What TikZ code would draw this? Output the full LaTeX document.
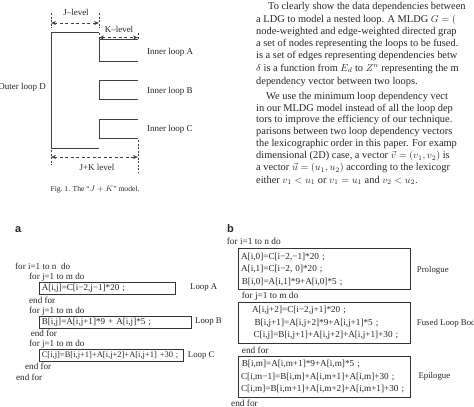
\documentclass[tikz,border=0pt]{standalone}
\usepackage{fontspec}
\setmainfont{Liberation Serif}
\newfontfamily\labelfont{Liberation Sans}
\usetikzlibrary{arrows.meta}

\begin{document}
\begin{tikzpicture}[x=1pt,y=-1pt,
  every node/.style={inner sep=0pt,text=black!85},
  bracket/.style={draw=black!75,line width=0.8pt},
  dimline/.style={draw=black!75,line width=0.7pt,dash pattern=on 3pt off 2.5pt,
    {Stealth[open,length=5pt,width=4pt]}-{Stealth[open,length=5pt,width=4pt]}},
  tick/.style={draw=black!75,line width=0.7pt,dash pattern=on 2pt off 1.5pt},
  figtext/.style={font=\fontsize{9}{10}\selectfont},
  body/.style={font=\fontsize{10.4}{12.4}\selectfont,anchor=base west},
  code/.style={font=\fontsize{8.8}{12.5}\selectfont,anchor=west},
  codea/.style={font=\fontsize{9.1}{12.5}\selectfont,anchor=west},
  codeb/.style={font=\fontsize{9.3}{12.5}\selectfont,anchor=west},
  codebox/.style={draw=black!80,line width=0.6pt,anchor=north west,inner xsep=2.5pt,
    inner ysep=0pt,minimum height=11.8pt,align=left,font=\fontsize{9.1}{12.5}\selectfont},
  blockbox/.style={codebox,minimum height=41pt,text width=166.7pt,font=\fontsize{9.2}{12.5}\selectfont},
  panel/.style={font=\labelfont\bfseries\fontsize{11}{12}\selectfont,anchor=base west}]
\useasboundingbox (0,0) rectangle (474,407);
\clip (0,0) rectangle (474,407);

% Fig. 1: the J+K model
\draw[bracket] (99,32) -- (51,32) -- (51,148) -- (99,148);
\draw[bracket] (138,39) -- (99,39) -- (99,61) -- (138,61);
\draw[bracket] (138,80) -- (99,80) -- (99,99) -- (138,99);
\draw[bracket] (138,119) -- (99,119) -- (99,138) -- (138,138);
\coordinate (jl) at (51,23); \coordinate (jr) at (99,23);
\coordinate (kl) at (99,37.5); \coordinate (kr) at (138,37.5);
\coordinate (jkl) at (51,157); \coordinate (jkr) at (138,157);
\draw[tick] (51,13) -- (51,28); \draw[tick] (99,13) -- (99,28);
\draw[tick] (99,33) -- (99,40); \draw[tick] (138,33) -- (138,40);
\draw[tick] (51,150) -- (51,165); \draw[tick] (138,140) -- (138,172);
\draw[dimline] (jl) -- (jr);
\draw[dimline] (kl) -- (kr);
\draw[dimline] (jkl) -- (jkr);
\node[figtext] (jlevel) at (76,12) {J–level};
\node[figtext] (klevel) at (119,29) {K–level};
\node[figtext] (jklevel) at (97,167) {J+K level};
\node[figtext,anchor=east] (outerD) at (46,87) {Outer loop D};
\node[figtext,anchor=west] (innerA) at (147,52) {Inner loop A};
\node[figtext,anchor=west] (innerB) at (147,91) {Inner loop B};
\node[figtext,anchor=west] (innerC) at (147,129) {Inner loop C};
\node[font=\fontsize{7.6}{9}\selectfont] (fig1) at (95,190) {Fig.~1. The ``$J+K$'' model.};

% text column
\node[body] (p1) at (268,9.5) {To clearly show the data dependencies between};
\node[body] (p2) at (256,22) {a LDG to model a nested loop. A MLDG $G=($};
\node[body] (p3) at (256,34) {node-weighted and edge-weighted directed grap};
\node[body] (p4) at (256,46) {a set of nodes representing the loops to be fused.};
\node[body] (p5) at (256,58) {is a set of edges representing dependencies betw};
\node[body] (p6) at (256,71) {$\delta$ is a function from $E_d$ to $Z^n$ representing the m};
\node[body] (p7) at (256,84) {dependency vector between two loops.};
\node[body] (p8) at (266,99) {We use the minimum loop dependency vect};
\node[body] (p9) at (256,111) {in our MLDG model instead of all the loop dep};
\node[body] (p10) at (256,122.5) {tors to improve the efficiency of our technique.};
\node[body] (p11) at (256,134.5) {parisons between two loop dependency vectors};
\node[body] (p12) at (256,146.5) {the lexicographic order in this paper. For examp};
\node[body] (p13) at (256,158.5) {dimensional (2D) case, a vector $\vec{v}=(v_1,v_2)$ is};
\node[body] (p14) at (256,170.5) {a vector $\vec{u}=(u_1,u_2)$ according to the lexicogr};
\node[body] (p15) at (256,183) {either $v_1<u_1$ or $v_1=u_1$ and $v_2<u_2$.};

% panel a: original loops
\node[panel] (la) at (15,232) {a};
\node[codea] (aFor) at (15,266) {for i=1 to n~ do};
\node[codea] (aForA) at (29,277.7) {for j=1 to m do};
\node[codebox,text width=131pt] (boxA) at (39,281.7) {\mbox{A[i,j]=C[i−2,j−1]*20 ;}};
\node[code] (loopA) at (190,287.7) {Loop A};
\node[codea] (aEndA) at (29,300.7) {end for};
\node[codea] (aForB) at (29,311) {for j=1 to m do};
\node[codebox,text width=146.7pt] (boxB) at (39,316) {\mbox{B[i,j]=A[i,j+1]*9 + A[i,j]*5 ;}};
\node[code] (loopB) at (195,321.7) {Loop B};
\node[codea] (aEndB) at (30.7,333.3) {end for};
\node[codea] (aForC) at (29,344) {for j=1 to m do};
\node[codebox,text width=139pt,font=\fontsize{8.5}{12.5}\selectfont] (boxC) at (39,349.3)
  {\mbox{C[i,j]=B[i,j+1]+A[i,j+2]+A[i,j+1] +30 ;}};
\node[code] (loopC) at (187.7,356) {Loop C};
\node[codea] (aEndC) at (25,366) {end for};
\node[codea] (aEnd) at (16,377.7) {end for};

% panel b: fused loop
\node[panel] (lb) at (227,232) {b};
\node[codeb] (bFor) at (226.7,241.7) {for i=1 to n do};
\node[blockbox] (pro) at (238.3,248.3) {A[i,0]=C[i−2,−1]*20 ;\\
  A[i,1]=C[i−2, 0]*20 ;\\
  \hspace*{0.7pt}B[i,0]=A[i,1]*9+A[i,0]*5 ;};
\node[code] (prologue) at (416.7,270) {Prologue};
\node[codeb] (bForJ) at (241.7,296) {for j=1 to m do};
\node[blockbox,minimum height=41.6pt] (body) at (238.3,301.7) {\hspace*{11pt}A[i,j+2]=C[i−2,j+1]*20 ;\\
  \hspace*{13.5pt}B[i,j+1]=A[i,j+2]*9+A[i,j+1]*5 ;\\
  \hspace*{12.5pt}\mbox{C[i,j]=B[i,j+1]+A[i,j+2]+A[i,j+1]+30 ;}};
\node[code] (fused) at (416.7,323.3) {Fused Loop Body};
\node[codeb] (bEndJ) at (241.7,350) {end for};
\node[blockbox,minimum height=40.7pt] (epi) at (238.3,356) {\hspace*{0.7pt}B[i,m]=A[i,m+1]*9+A[i,m]*5 ;\\
  \mbox{C[i,m−1]=B[i,m]+A[i,m+1]+A[i,m]+30 ;}\\
  \mbox{C[i,m]=B[i,m+1]+A[i,m+2]+A[i,m+1]+30 ;}};
\node[code] (epilogue) at (418.3,376.7) {Epilogue};
\node[codeb] (bEnd) at (231,403) {end for};
\end{tikzpicture}
\end{document}
